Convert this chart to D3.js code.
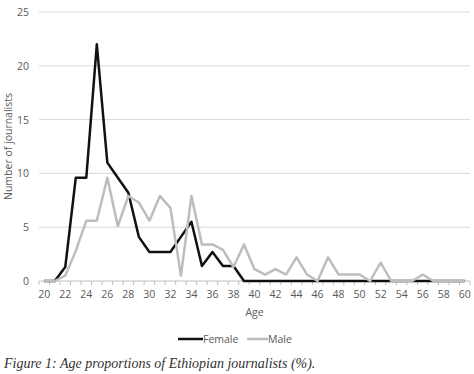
<!DOCTYPE html>
<html>
<head>
<meta charset="utf-8">
<script src="https://cdn.jsdelivr.net/npm/d3@7"></script>
<style>
  body { margin: 0; background: #fff; }
  svg text { font-family: "Open Sans", "Noto Sans", sans-serif; fill: #595959; }
</style>
</head>
<body>
<div id="chart"></div>
<script>
// ages 20..60, values (%)
var ages = d3.range(20, 61);
var female = [0, 0, 1.3, 9.6, 9.6, 22, 11, 9.6, 8.2, 4.1, 2.7, 2.7, 2.7, 4.1, 5.5, 1.4, 2.7, 1.4, 1.4, 0,
  0, 0, 0, 0, 0, 0, 0, 0, 0, 0, 0, 0, 0, 0, 0, 0, 0, 0, 0, 0, 0];
var male = [0, 0, 0.5, 2.8, 5.6, 5.6, 9.6, 5.1, 7.9, 7.3, 5.6, 7.9, 6.8, 0.5, 7.9, 3.4, 3.4, 2.9, 1.3, 3.4,
  1.1, 0.6, 1.1, 0.6, 2.2, 0.6, 0, 2.2, 0.6, 0.6, 0.6, 0, 1.7, 0, 0, 0, 0.6, 0, 0, 0, 0];
var yTicks = [0, 5, 10, 15, 20, 25];
var xLabels = d3.range(20, 61, 2);

var W = 474, H = 374;
var svg = d3.select("#chart").append("svg").attr("width", W).attr("height", H);

var x = d3.scaleBand().domain(ages).range([39, 470]);
var y = d3.scaleLinear().domain([0, 25]).range([281, 12]);
var cx = function(a) { return x(a) + x.bandwidth() / 2; };

// gridlines
svg.append("g").selectAll("line").data(yTicks.filter(function(d) { return d > 0; })).enter()
  .append("line")
  .attr("x1", 39).attr("x2", 470)
  .attr("y1", function(d) { return y(d); }).attr("y2", function(d) { return y(d); })
  .attr("stroke", "#d9d9d9").attr("stroke-width", 1);

// y labels
svg.append("g").selectAll("text").data(yTicks).enter()
  .append("text")
  .attr("x", 29).attr("y", function(d) { return y(d) + 4; })
  .attr("text-anchor", "end").style("font-size", "10.5px")
  .text(function(d) { return d; });

// x axis line + ticks between categories
svg.append("line").attr("x1", 39).attr("x2", 470).attr("y1", y(0)).attr("y2", y(0))
  .attr("stroke", "#bfbfbf");
svg.append("g").selectAll("line").data(d3.range(0, ages.length + 1)).enter()
  .append("line")
  .attr("x1", function(i) { return 39 + i * x.step(); })
  .attr("x2", function(i) { return 39 + i * x.step(); })
  .attr("y1", y(0)).attr("y2", y(0) + 4)
  .attr("stroke", "#bfbfbf");

svg.append("g").selectAll("text").data(xLabels).enter()
  .append("text")
  .attr("x", function(d) { return cx(d); }).attr("y", 298)
  .attr("text-anchor", "middle").style("font-size", "10.5px")
  .text(function(d) { return d; });

// axis titles
svg.append("text").attr("x", cx(40)).attr("y", 316).attr("text-anchor", "middle")
  .style("font-size", "10.5px").text("Age");
svg.append("text").attr("transform", "translate(12," + y(12.5) + ") rotate(-90)")
  .attr("text-anchor", "middle").style("font-size", "10.5px").text("Number of journalists");

// lines
var line = function(vals) {
  return d3.line().x(function(d, i) { return cx(ages[i]); }).y(function(d) { return y(d); })(vals);
};
svg.append("path").attr("d", line(female)).attr("fill", "none")
  .attr("stroke", "#111").attr("stroke-width", 2.5).attr("stroke-linejoin", "round");
svg.append("path").attr("d", line(male)).attr("fill", "none")
  .attr("stroke", "#bdbdbd").attr("stroke-width", 2.5).attr("stroke-linejoin", "round");

// legend
var leg = svg.append("g");
leg.append("line").attr("x1", 178).attr("x2", 203).attr("y1", 339).attr("y2", 339)
  .attr("stroke", "#111").attr("stroke-width", 2.5);
leg.append("text").attr("x", 203).attr("y", 343).style("font-size", "10.5px").text("Female");
leg.append("line").attr("x1", 247).attr("x2", 268).attr("y1", 339).attr("y2", 339)
  .attr("stroke", "#bdbdbd").attr("stroke-width", 2.5);
leg.append("text").attr("x", 268).attr("y", 343).style("font-size", "10.5px").text("Male");

// caption
svg.append("text").attr("x", 4).attr("y", 368)
  .style("font-family", "'Liberation Serif', serif").style("font-style", "italic")
  .style("font-size", "14px").style("fill", "#333")
  .text("Figure 1: Age proportions of Ethiopian journalists (%).");
</script>
</body>
</html>
